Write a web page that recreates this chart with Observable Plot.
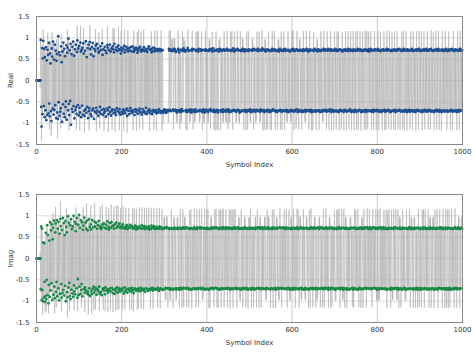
<!DOCTYPE html>
<html>
<head>
<meta charset="utf-8">
<script src="https://cdn.jsdelivr.net/npm/d3@7"></script>
<script src="https://cdn.jsdelivr.net/npm/@observablehq/plot@0.6"></script>
<style>
  html, body { margin: 0; padding: 0; background: white; }
  #chart svg { display: block; }
</style>
</head>
<body>
<div id="chart"></div>
<script>
// Tick labels
const xTicks = [0, 200, 400, 600, 800, 1000];
const yTicks = [-1.5, -1, -0.5, 0, 0.5, 1, 1.5];
const xLabel = "Symbol Index";
const panelLabels = ["Real", "Imag"];

// Equalizer output per symbol, in hundredths (index = symbol index)
const realValues = [
0,0,0,0,0,0,0,0,0,0,95,-62,-108,76,-79,52,93,-60,74,-86,
55,-70,78,-93,47,-81,72,60,-77,88,-54,-84,63,40,-72,-95,75,56,-66,91,
-80,49,-69,84,-58,70,-88,46,62,-75,-90,104,-51,66,-83,59,-73,-65,80,43,
-97,68,-56,89,-78,74,-86,57,-62,-49,83,-92,65,77,-70,98,-55,-81,71,-48,
86,-104,62,-67,79,-74,91,-60,58,-89,73,-70,84,-63,-78,67,94,-58,75,-82,
81,-64,-75,89,68,-86,72,-59,77,-80,87,63,-71,-83,70,-68,92,-76,55,-62,
76,-88,84,-72,-65,90,73,-79,61,-84,78,-70,88,-66,57,-90,74,-73,69,82,
-64,-77,86,-71,75,-83,65,68,-74,-62,80,-78,72,-69,87,60,-81,73,-67,-76,
79,-72,70,-85,64,-66,83,77,-70,-79,71,-63,84,-74,68,-82,75,-71,-68,80,
73,-77,66,86,-69,-75,72,-81,78,-65,69,-72,82,74,-76,-67,71,-80,63,77,
-73,70,-78,75,-68,-74,81,66,-77,72,-70,79,-66,-83,74,68,-71,76,-79,70,
-65,78,-72,69,-76,80,-70,-73,67,75,-81,71,-68,77,-74,-69,73,65,-78,70,
76,-71,-66,79,-75,72,68,-80,73,-67,-74,70,78,-72,69,-77,74,-64,71,-79,
67,-73,75,-70,80,-68,-76,72,-71,74,66,-79,70,-73,77,-69,-72,68,75,-74,
71,-70,-77,73,69,-75,72,-68,74,-71,69,-76,73,70,-74,-72,71,-75,-71,-73,
-68,-74,-70,-72,-76,-69,-73,-71,-71,-70,-72,74,70,-69,73,71,-72,70,71,69,
72,-68,-71,74,70,73,-69,67,-73,-70,-75,-72,71,74,-70,66,-73,-69,72,-74,
-71,-67,70,73,-72,75,71,69,70,68,-70,-73,71,-69,-74,76,72,-70,69,-71,
-73,-68,-70,72,-75,70,74,-69,-71,73,-72,-70,-74,-68,71,69,-73,72,70,-71,
68,74,-72,-70,-69,73,-71,70,71,-74,-70,72,-68,-73,-71,-75,70,73,-69,71,
-72,70,-71,-74,-70,69,73,72,-67,-71,74,-70,72,68,-73,75,-69,-72,70,-74,
-71,71,70,-69,-72,73,-75,-70,68,72,71,74,-70,-73,69,-71,72,-68,-74,-70,
73,70,-72,71,-69,-73,-70,74,70,-71,-68,72,-74,-70,-72,71,69,-73,70,72,
-70,-71,75,-69,68,73,-72,70,-71,-73,-70,72,74,-69,71,-70,-72,-75,70,71,
-73,69,-70,72,74,70,-71,-72,68,-70,73,-69,-74,71,70,-72,-70,69,73,-71,
72,-68,-73,-70,71,-74,70,73,71,-69,-72,74,-70,71,-73,-71,-69,72,70,-70,
74,-72,69,71,-70,-73,-68,72,-71,70,75,-70,-72,73,-69,-74,71,70,68,-72,
-70,73,-71,-69,72,70,-74,71,-70,-73,69,-72,-71,74,70,-68,72,-70,71,73,
-72,-70,69,-74,71,-71,-73,70,72,68,-70,74,-69,-72,71,70,-73,-70,72,-71,
69,73,-70,-72,74,-71,70,-69,-73,-70,71,72,-74,70,-71,68,-72,-70,-69,73,
71,-72,70,74,-70,-73,69,-71,72,-70,-68,73,71,-74,70,-72,-69,71,70,72,
-73,70,-71,-70,72,-74,69,73,-71,70,-72,-69,-73,71,74,-70,72,-71,68,-70,
-72,73,70,-69,71,-74,-70,72,-71,-73,70,69,-72,74,-70,71,-73,-70,72,70,
68,-71,73,-72,-70,70,-74,71,69,-73,72,-70,-71,-69,74,70,-72,73,-70,71,
-69,-73,72,70,-71,74,-70,-72,71,-68,70,73,-74,-71,70,-69,72,-70,-73,71,
70,-72,74,-70,-71,69,72,-73,70,71,-74,-70,73,-69,72,-71,-70,70,68,-72,
71,-74,-70,73,-69,70,72,-71,-73,70,-72,74,69,-70,-71,72,-68,73,70,-74,
-71,70,-72,69,73,-70,-74,71,-69,72,70,-73,-71,70,74,-72,-70,71,-69,73,
70,-71,-74,72,-70,69,71,-73,70,-72,-70,73,71,-69,-74,70,72,-71,-70,68,
73,-72,70,-71,74,69,-70,-73,72,-70,71,-74,-69,70,73,-71,72,-70,-72,71,
-69,74,70,-73,-71,72,-70,70,69,-74,71,-72,-70,73,-71,70,72,-69,-73,71,
-70,-72,74,70,-71,73,-69,-70,72,71,-74,70,-73,-71,69,72,-70,71,-72,-70,
73,70,-69,-74,71,-72,70,73,-71,-70,72,-69,74,-71,-70,70,-73,72,69,-71,
-72,70,74,-70,-73,71,-69,72,70,-71,-74,73,-70,70,-72,71,-69,-73,70,72,
-71,74,-70,-72,69,71,-73,70,-70,72,-74,-71,73,70,-69,72,-71,-70,74,70,
-72,69,-73,71,70,-70,-74,72,-71,73,70,-69,-72,71,-70,74,-73,70,72,-71,
-69,70,-72,73,-71,-70,74,71,-73,70,-72,69,70,-71,-74,72,-70,71,73,-69,
-72,70,-71,74,70,-73,-69,72,-70,71,-72,-74,70,73,-71,69,-70,72,-73,71,
70,-72,74,-70,-71,69,-73,72,70,-71,73,-70,-72,71,-69,74,-70,-73,72,70,
-71,69,-72,73,-70,71,-74,-70,72,70,-73,71,-69,-72,74,70,-71,72,-70,71
];

const imagValues = [
0,0,0,0,0,0,0,0,0,0,-72,75,-97,70,-74,-100,38,-92,36,-55,
-102,-88,60,-95,-50,78,-86,55,-105,-62,42,-90,85,-75,66,-58,80,-97,45,72,
-85,89,-66,-93,61,82,-78,-55,90,-89,70,-70,86,-98,58,-83,93,76,-60,-92,
67,-81,95,-74,83,-87,55,-64,88,-100,74,61,-79,-91,99,-68,84,-57,-88,78,
-95,92,-73,69,-82,75,-90,100,-63,-77,86,-84,64,81,-70,95,-92,-48,79,-86,
102,-66,72,-83,90,-74,-60,85,-89,67,77,-72,96,-80,-68,84,-75,70,88,-82,
66,-78,-85,92,-70,74,-88,80,68,-76,-83,90,-71,73,-66,-80,86,75,-74,-69,
84,-85,70,-72,78,-77,88,-66,-82,76,71,-79,69,-86,74,80,-73,-70,82,-75,
72,-84,-68,79,70,-76,87,-72,-80,74,68,-75,83,-70,-77,72,85,-69,76,-81,
-73,78,70,-83,80,-71,-76,84,72,-68,-80,75,77,-74,-70,82,-78,71,74,-72,
76,-75,-70,80,71,-82,73,-68,-77,70,75,-73,78,-80,69,-71,74,72,-76,-70,
79,-72,73,-78,-69,76,70,-74,-81,72,71,-70,77,-75,68,74,-72,-76,70,-73,
-70,75,72,-77,71,-69,-74,78,70,-72,73,-75,-71,76,69,-78,72,-70,74,71,
-73,70,-76,72,75,-71,68,-74,-72,70,77,-69,73,-75,-70,71,76,-72,69,-73,
72,-71,74,70,-73,-69,71,-76,70,75,-72,-70,73,-71,69,72,-74,70,-73,71,
70,72,-71,-69,-70,73,72,71,-70,-70,72,-71,69,-73,-70,-72,71,70,-71,70,
-73,-71,70,72,69,-71,72,-70,-73,-70,71,69,72,-71,70,-70,-73,72,71,-69,
70,-72,-71,70,73,-69,-70,71,72,70,-70,73,-71,-69,72,-70,71,-72,-70,70,
69,-73,71,70,-72,-72,70,-71,69,-70,73,71,-72,70,-71,-70,69,73,-72,71,
-70,-70,72,71,-69,73,-72,70,71,-71,-70,-69,72,-72,71,70,-73,70,-71,69,
72,-71,70,70,-73,-72,69,-71,-70,72,71,70,-69,73,-72,71,-70,-70,71,72,
-69,73,71,-70,-70,72,-72,-71,69,70,-73,71,72,-70,-70,71,69,-72,73,71,
-70,-70,72,-71,69,72,-70,73,-71,-70,70,-69,72,71,-72,-73,70,71,-70,69,
71,-72,-70,70,73,-71,72,70,-69,71,-72,-70,73,-71,70,72,69,-70,-71,-73,
70,71,-72,70,-69,-72,71,-70,73,70,71,-72,-69,71,-70,70,-73,-72,71,70,
69,-70,72,71,-73,-71,70,-69,72,-70,-71,70,-73,72,69,71,-70,-70,72,71,
-70,73,-69,-71,72,70,71,-70,-72,73,-70,69,-71,72,-71,70,73,70,-72,-69,
-71,70,72,-70,73,71,69,-72,70,-71,-72,70,-70,69,73,-71,-72,70,72,-70,
71,-69,-73,72,70,70,-71,72,-69,-70,-71,73,72,-70,71,-69,-70,72,-71,73,
-70,71,70,-72,69,-71,73,70,-70,-72,71,-69,70,71,-72,-70,-73,69,71,72,
-70,70,-73,71,72,-69,70,-72,-71,70,-70,73,71,-72,69,70,-72,-70,71,71,
73,-70,-69,-72,70,-71,72,70,-73,71,-70,-69,-72,72,71,70,-71,70,-73,-72,
69,71,-70,-70,72,73,-71,70,-69,-72,71,-70,73,70,71,-72,-69,71,-70,-70,
-72,73,-71,69,70,72,-70,-71,73,-70,72,-69,-71,70,71,-72,-70,70,-69,73,
72,-71,70,-70,71,-73,-69,72,70,71,-70,-72,73,-69,-71,70,-70,72,-71,69,
70,-73,-72,-70,71,69,-71,72,70,-70,73,71,-69,-72,70,-70,72,71,-70,-69,
-73,72,71,-70,-71,70,69,72,-73,-70,71,-71,70,-72,69,-73,70,71,72,-70,
71,-70,-69,72,-73,-70,71,71,-70,72,69,-72,70,-73,71,70,-72,-69,70,-71,
73,-70,-72,71,69,70,-72,-71,70,73,-70,72,-69,71,-71,-70,73,72,-70,69,
-71,72,70,-70,73,-72,69,-71,-70,71,72,-70,73,-69,71,-70,70,72,-71,-73,
-70,69,72,-71,-70,-72,73,71,-70,69,-71,72,-70,73,-71,70,69,-72,72,-70,
71,70,-73,-72,69,70,-71,70,72,-72,71,-73,-69,70,71,-72,-70,-70,69,72,
-71,73,-70,72,71,-70,-69,-72,71,70,-73,-70,72,71,69,-70,-71,72,-73,70,
70,-71,72,-69,71,-70,-72,-73,70,70,-71,69,-72,72,-71,73,70,-70,-71,69,
72,70,-71,72,-73,-70,69,71,70,-72,-70,72,-69,71,-73,-70,72,71,-70,-70,
69,-73,72,-71,-70,70,71,-72,69,73,-70,-71,72,70,-70,69,-72,71,-73,70,
71,-70,-72,69,73,70,-71,-72,70,-70,69,71,72,-73,-70,71,70,-72,69,-71,
70,72,-73,-70,71,-69,72,70,-71,73,-70,70,-72,-71,69,72,-70,71,-70,-73,
72,69,-71,-70,70,72,-73,-70,71,71,-69,-72,70,-73,71,70,-72,69,-70,71,
-70,-72,71,73,-69,70,-71,-72,70,-70,73,71,69,-72,-71,70,-70,72,71,70
];

const dotColors = ["#1d4f91", "#1a8a4a"];

function panel(values, label, color, height, marginTop, marginBottom) {
  const data = values.map((v, i) => ({i, v: v / 100}));
  return Plot.plot({
    width: 474,
    height,
    marginLeft: 36,
    marginRight: 12,
    marginTop,
    marginBottom,
    style: {fontFamily: "DejaVu Sans", fontSize: "7px", color: "#333", background: "white"},
    x: {domain: [0, 1000], ticks: xTicks, tickSize: 0, tickPadding: 5, tickFormat: d => String(d),
        label: xLabel, labelAnchor: "center", labelOffset: 22, labelArrow: false},
    y: {domain: [-1.5, 1.5], ticks: yTicks, tickSize: 0, tickPadding: 7, tickFormat: d => String(d),
        label, labelAnchor: "center", labelOffset: 28, labelArrow: false},
    marks: [
      Plot.gridY(yTicks, {stroke: "#dcdcdc", strokeOpacity: 1}),
      Plot.gridX(xTicks, {stroke: "#c8c8c8", strokeOpacity: 1}),
      Plot.line(data, {x: "i", y: "v", curve: "cardinal", tension: -1.5, stroke: "#b0b0b0", strokeWidth: 0.6, clip: true}),
      Plot.dot(data, {x: "i", y: "v", r: 1.4, fill: color, stroke: "none"}),
      Plot.frame({stroke: "#888"})
    ]
  });
}

const chart = document.getElementById("chart");
chart.appendChild(panel(realValues, panelLabels[0], dotColors[0], 177, 16, 33));
chart.appendChild(panel(imagValues, panelLabels[1], dotColors[1], 173, 17, 28));
</script>
</body>
</html>
